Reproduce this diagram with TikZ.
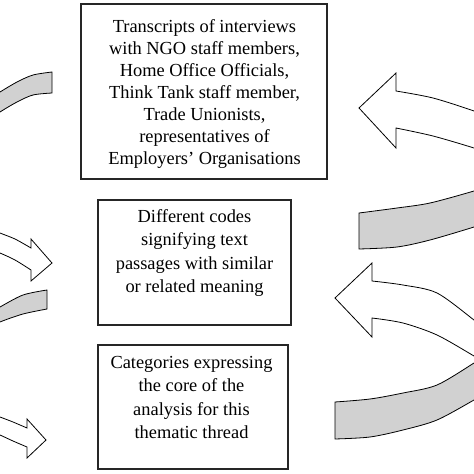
\documentclass[tikz,border=0pt]{standalone}
\usepackage{fontspec}
\setmainfont{Liberation Serif}
\begin{document}
\begin{tikzpicture}[x=1pt,y=-1pt,
  boxstyle/.style={draw=black!85,line width=1.1pt,fill=white,inner sep=0pt},
  txtA/.style={align=center,font=\fontsize{18.4}{22}\selectfont,inner sep=0pt},
  txtB/.style={align=center,font=\fontsize{18.4}{23.2}\selectfont,inner sep=0pt},
  band/.style={draw=black,line width=0.8pt,fill=black!18,line join=miter},
  hollow/.style={draw=black,line width=0.8pt,fill=white,line join=miter}]
\useasboundingbox (0,0) rectangle (474,474);
\fill[white] (0,0) rectangle (474,474);
\begin{scope}
\clip (0,0) rectangle (474,474);
% left side
\filldraw[band] plot[smooth] coordinates {(52,72) (33,75) (17,82) (0,92) (-8,97)}
  -- plot[smooth] coordinates {(-8,118) (0,112) (17,102) (33,95) (52,93)} -- cycle;
\filldraw[hollow] plot[smooth] coordinates {(-8,229) (0,233) (15,239) (31,248)}
  -- (31,239) -- (52,263) -- (31,281) -- (31,270)
  -- plot[smooth] coordinates {(31,270) (15,260) (0,253) (-8,250)} -- cycle;
\filldraw[band] plot[smooth] coordinates {(47,290) (23,295) (0,307) (-8,312)}
  -- plot[smooth] coordinates {(-8,327) (0,322) (23,314) (47,309)} -- cycle;
\filldraw[hollow] plot[smooth] coordinates {(-8,414) (0,417) (13,422) (27,428)}
  -- (27,419) -- (46,440) -- (27,458) -- (27,447)
  -- plot[smooth] coordinates {(27,447) (13,441) (0,435) (-8,432)} -- cycle;
% right side
\filldraw[hollow] plot[smooth] coordinates {(484,116) (474,111) (433,98) (396,91)}
  -- (396,73) -- (359,108) -- (396,148) -- (396,128)
  -- plot[smooth] coordinates {(396,128) (433,136) (474,148) (484,152)} -- cycle;
\filldraw[band] plot[smooth] coordinates {(359,213) (397,208) (430,203) (474,191) (484,187)}
  -- plot[smooth] coordinates {(484,223) (474,227) (430,240) (397,247) (359,249)} -- cycle;
\filldraw[hollow] plot[smooth] coordinates {(484,328) (474,320) (437,293) (403,285) (372,281)}
  -- (372,263) -- (335,298) -- (372,337) -- (372,318)
  -- plot[smooth] coordinates {(372,318) (403,323) (437,335) (474,356) (484,362)} -- cycle;
\filldraw[band] plot[smooth] coordinates {(335,402) (370,399) (403,393) (437,385) (474,363) (484,356)}
  -- plot[smooth] coordinates {(484,394) (474,400) (437,420) (403,430) (370,437) (335,439)} -- cycle;
\end{scope}
% boxes
\node[boxstyle,minimum width=246pt,minimum height=175pt] (b1) at (204,91.5) {};
\node[boxstyle,minimum width=193pt,minimum height=125pt] (b2) at (194.5,262.5) {};
\node[boxstyle,minimum width=190pt,minimum height=124pt] (b3) at (193,407) {};
\node[txtA] (t1) at (204.5,94) {Transcripts of interviews\\with NGO staff members,\\Home Office Officials,\\Think Tank staff member,\\Trade Unionists,\\representatives of\\Employers’ Organisations};
\node[txtB] (t2) at (194.5,253) {Different codes\\signifying text\\passages with similar\\or related meaning};
\node[txtB] (t3) at (191.5,397.5) {Categories expressing\\the core of the\\analysis for this\\thematic thread};
\end{tikzpicture}
\end{document}
